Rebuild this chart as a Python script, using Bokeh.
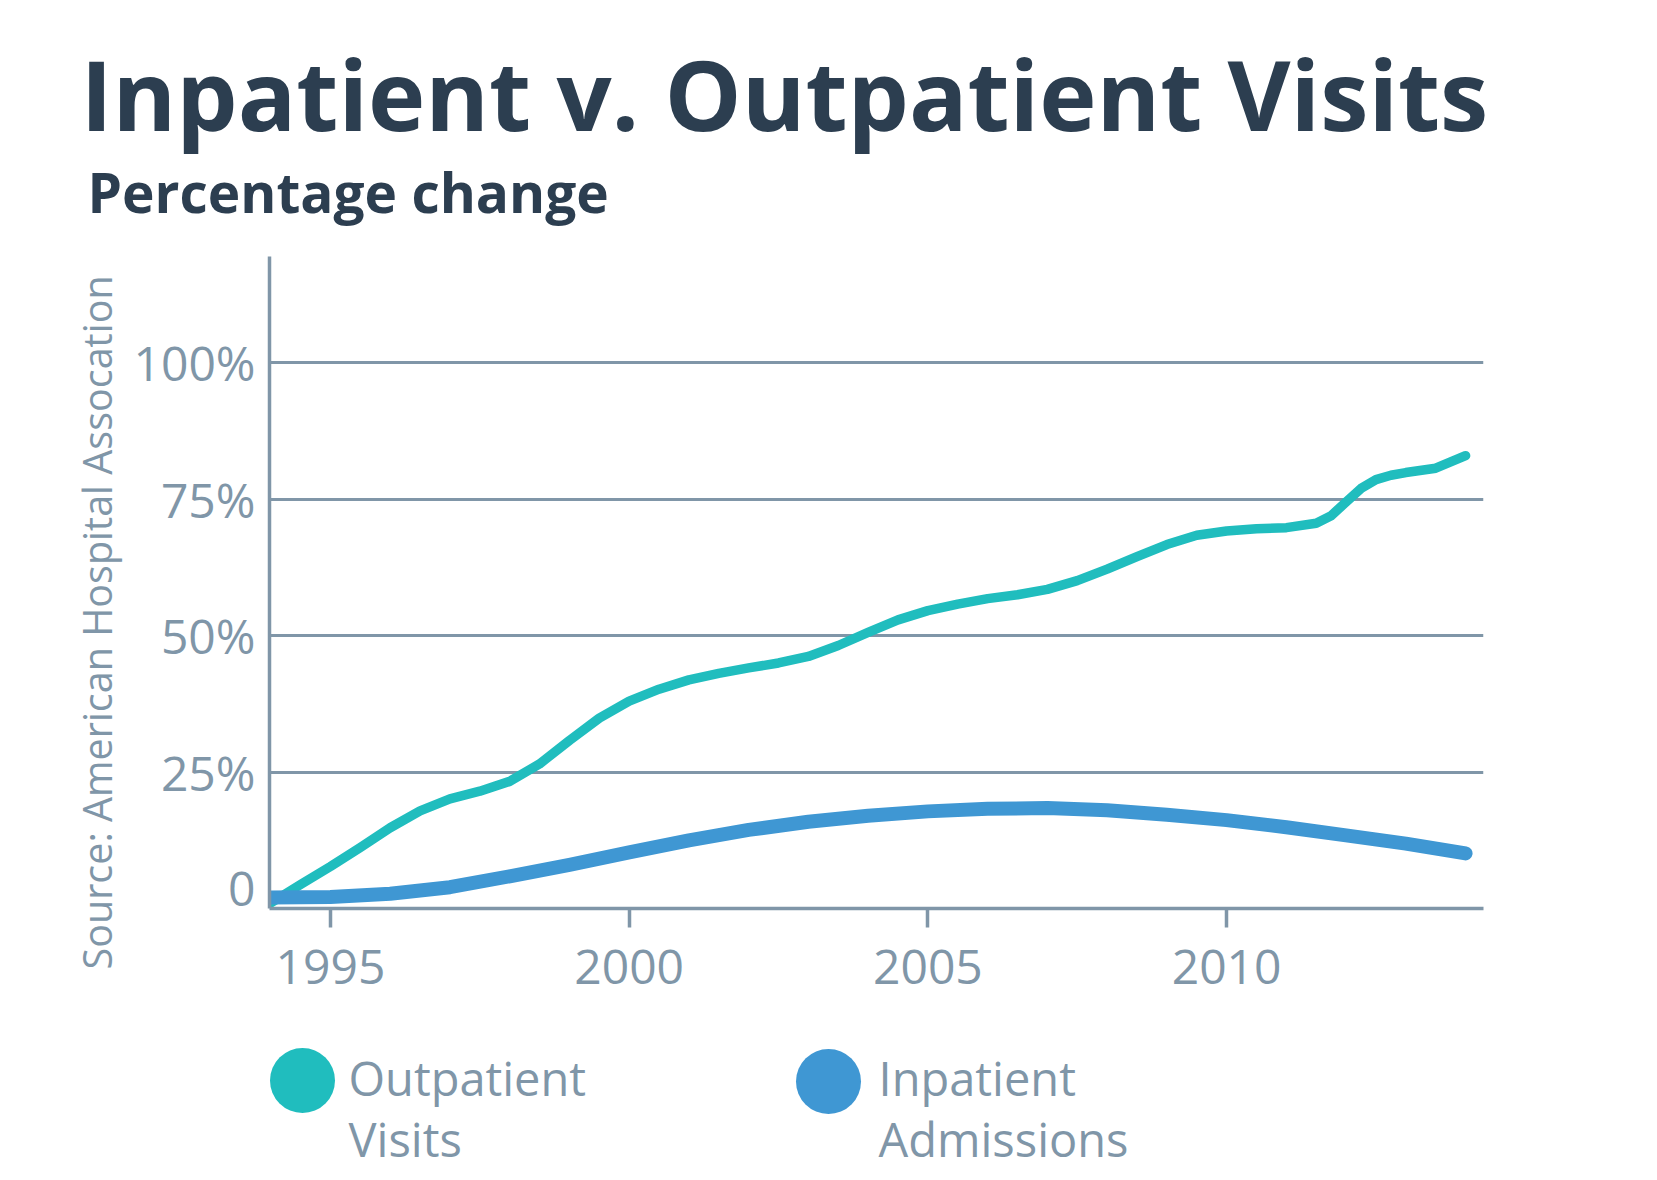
from bokeh.plotting import figure
from bokeh.models import Range1d, FixedTicker, Title
from bokeh.layouts import column
from bokeh.embed import file_html
from bokeh.resources import INLINE
from bokeh.core.properties import value

# ---------------- data ----------------
title_text = "Inpatient v. Outpatient Visits"
subtitle_text = "Percentage change"
source_text = "Source: American Hospital Assocation"

series_names = ["Outpatient Visits", "Inpatient Admissions"]
series_colors = ["#20BDBE", "#3F97D3"]

outpatient_years = [1994.0, 1994.5, 1995.0, 1995.5, 1996.0, 1996.5, 1997.0, 1997.5,
                    1998.0, 1998.5, 1999.0, 1999.5, 2000.0, 2000.5, 2001.0, 2001.5,
                    2002.0, 2002.5, 2003.0, 2003.5, 2004.0, 2004.5, 2005.0, 2005.5,
                    2006.0, 2006.5, 2007.0, 2007.5, 2008.0, 2008.5, 2009.0, 2009.5,
                    2010.0, 2010.5, 2011.0, 2011.5, 2011.75, 2012.0, 2012.25, 2012.5,
                    2012.75, 2013.0, 2013.5, 2014.0]
outpatient_values = [1.0, 4.4, 7.7, 11.2, 14.8, 17.9, 20.1, 21.5,
                     23.3, 26.5, 30.8, 34.9, 38.0, 40.2, 41.9, 43.1,
                     44.1, 45.0, 46.2, 48.2, 50.6, 52.9, 54.6, 55.8,
                     56.8, 57.5, 58.5, 60.1, 62.2, 64.5, 66.7, 68.4,
                     69.2, 69.6, 69.8, 70.6, 72.0, 74.5, 77.0, 78.6,
                     79.4, 79.9, 80.7, 83.0]

inpatient_years = [1994, 1995, 1996, 1997, 1998, 1999, 2000, 2001, 2002, 2003, 2004,
                   2005, 2006, 2007, 2008, 2009, 2010, 2011, 2012, 2013, 2014]
inpatient_values = [2.0, 2.1, 2.7, 3.9, 5.9, 8.0, 10.3, 12.5, 14.4, 15.9, 17.0,
                    17.8, 18.3, 18.4, 18.0, 17.2, 16.2, 14.9, 13.4, 11.9, 10.1]

x_ticks = [1995, 2000, 2005, 2010]
grid_ticks = [25, 50, 75, 100]
y_tick_labels = ["25%", "50%", "75%", "100%"]
zero_label = "0"

# ---------------- styles / layout ----------------
FONT = "Open Sans"
DARK = "#2C3E50"
GRAY = "#8096A8"
W = 1640
LEFT, RIGHT, TOP, BOTTOM = 269, 157, 256, 102
FRAME_H = 652
ZERO_LABEL_LIFT = 3.85   # the "0" label sits a little above the baseline in the original

p = figure(width=W, height=TOP + FRAME_H + BOTTOM,
           x_range=Range1d(1993.98, 2014.30), y_range=Range1d(0, 119.5),
           output_backend="svg", toolbar_location=None,
           min_border_left=LEFT, min_border_right=RIGHT,
           min_border_top=TOP, min_border_bottom=BOTTOM)
p.outline_line_color = None
p.background_fill_color = "white"
p.border_fill_color = "white"

y_axis_ticks = [ZERO_LABEL_LIFT] + grid_ticks
p.xaxis.ticker = FixedTicker(ticks=x_ticks)
p.yaxis.ticker = FixedTicker(ticks=y_axis_ticks)
p.yaxis.major_label_overrides = dict(zip(y_axis_ticks, [zero_label] + y_tick_labels))
for ax in (p.xaxis, p.yaxis):
    ax.axis_line_color = GRAY
    ax.axis_line_width = 3.5
    ax.major_tick_line_color = GRAY
    ax.major_tick_line_width = 3.5
    ax.minor_tick_out = 0
    ax.minor_tick_in = 0
    ax.major_tick_in = 0
    ax.major_label_text_font = FONT
    ax.major_label_text_font_size = "48px"
    ax.major_label_text_color = GRAY
p.xaxis.major_tick_out = 19
p.xaxis.major_label_standoff = 22
p.yaxis.major_tick_out = 0
p.yaxis.major_label_standoff = 14

p.xgrid.visible = False
p.ygrid.ticker = FixedTicker(ticks=grid_ticks)
p.ygrid.grid_line_color = GRAY
p.ygrid.grid_line_width = 3

p.line(outpatient_years, outpatient_values, line_width=9.5, line_color=series_colors[0],
       line_cap="round", line_join="round")
p.line(inpatient_years, inpatient_values, line_width=14, line_color=series_colors[1],
       line_cap="round", line_join="round")

# titles (subtitle added first -> closest to the plot)
p.add_layout(Title(text=subtitle_text, align="left", offset=-182,
                   text_font=FONT, text_font_size="55px", text_font_style="bold",
                   text_color=DARK, standoff=55), "above")
p.add_layout(Title(text=title_text, align="left", offset=-189,
                   text_font=FONT, text_font_size="97px", text_font_style="bold",
                   text_color=DARK, standoff=-68), "above")
p.add_layout(Title(text=source_text, align="left", offset=-61,
                   text_font=FONT, text_font_size="39.5px", text_font_style="normal",
                   text_color=GRAY, standoff=14), "left")

# ---------------- legend ----------------
LH = 160
TEXT_SHIFT = 20   # measured offset of the svg text baseline
lg = figure(width=W, height=LH, x_range=Range1d(LEFT, W - RIGHT), y_range=Range1d(LH, 0),
            output_backend="svg", toolbar_location=None, title=None,
            min_border_left=LEFT, min_border_right=RIGHT, min_border_top=0,
            min_border_bottom=0, x_axis_type=None, y_axis_type=None)
lg.outline_line_color = None
lg.grid.visible = False

legend_x = [302, 828]
label_gap = [46, 50]
lg.scatter(x=legend_x, y=[70, 71], size=65, marker="circle",
           fill_color=series_colors, line_color=None)
first_lines = [n.split(" ")[0] for n in series_names]
second_lines = [n.split(" ")[1] for n in series_names]
text_x = [x + g for x, g in zip(legend_x, label_gap)]
lg.text(x=text_x * 2,
        y=[87 - TEXT_SHIFT] * 2 + [148 - TEXT_SHIFT] * 2,
        text=first_lines + second_lines,
        text_font=value(FONT), text_font_size=value("47px"),
        text_color=GRAY, text_baseline="alphabetic", text_align="left")

layout = column(p, lg)
open("out.html", "w").write(file_html(layout, INLINE))
